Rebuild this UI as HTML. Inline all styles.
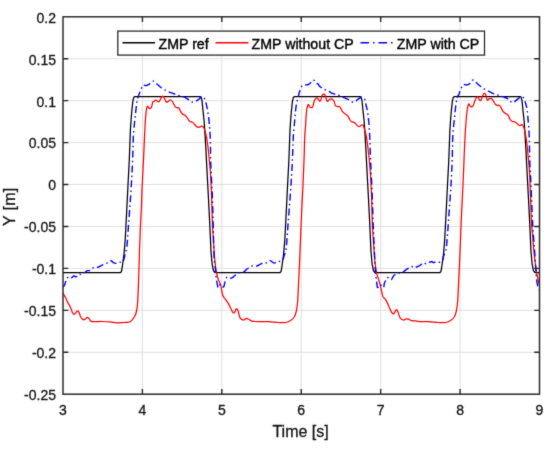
<!DOCTYPE html>
<html><head><meta charset="utf-8"><title>ZMP plot</title>
<style>
html,body{margin:0;padding:0;background:#fff;}
body{width:550px;height:449px;overflow:hidden;}
svg{display:block;}
text{font-family:"Liberation Sans",Arial,Helvetica,sans-serif;stroke-width:0.3px;}
</style></head><body>
<svg width="550" height="449" viewBox="0 0 550 449">
<defs><filter id="soft" x="0" y="0" width="550" height="449" filterUnits="userSpaceOnUse" color-interpolation-filters="sRGB"><feConvolveMatrix order="3" kernelMatrix="0.01134 0.08382 0.01134 0.08382 0.61935 0.08382 0.01134 0.08382 0.01134" edgeMode="duplicate"/></filter></defs>
<g filter="url(#soft)">
<rect x="0" y="0" width="550" height="449" fill="#fff"/>

<path d="M142.42 16.80V394.20M221.83 16.80V394.20M301.25 16.80V394.20M380.67 16.80V394.20M460.08 16.80V394.20M63.00 58.73H539.50M63.00 100.67H539.50M63.00 142.60H539.50M63.00 184.53H539.50M63.00 226.47H539.50M63.00 268.40H539.50M63.00 310.33H539.50M63.00 352.27H539.50" stroke="#dfdfdf" stroke-width="1" fill="none"/>
<polyline points="63.0,272.5 120.5,272.5 121.5,271.3 122.4,266.0 124.0,254.0 125.2,240.0 126.5,215.0 128.0,185.0 129.3,160.0 130.4,130.0 131.2,118.0 131.9,110.0 132.8,101.7 133.6,97.8 134.5,96.5 199.9,96.5 200.9,96.9 201.5,98.4 202.0,100.8 203.0,110.6 204.2,121.8 204.8,131.1 205.8,147.8 206.7,165.0 208.3,195.0 209.8,225.0 210.4,238.4 211.0,251.7 212.1,263.8 213.5,270.8 215.0,272.5 280.1,272.5 281.1,271.3 282.0,266.0 283.6,254.0 284.8,240.0 286.1,215.0 287.6,185.0 288.9,160.0 290.0,130.0 290.8,118.0 291.5,110.0 292.4,101.7 293.2,97.8 294.1,96.5 359.9,96.5 360.9,96.9 361.5,98.4 362.0,100.8 363.0,110.6 364.2,121.8 364.8,131.1 365.8,147.8 366.7,165.0 368.3,195.0 369.8,225.0 370.4,238.4 371.0,251.7 372.1,263.8 373.5,270.8 375.0,272.5 440.0,272.5 441.0,271.3 441.9,266.0 443.5,254.0 444.7,240.0 446.0,215.0 447.5,185.0 448.8,160.0 449.9,130.0 450.7,118.0 451.4,110.0 452.3,101.7 453.1,97.8 454.0,96.5 519.9,96.5 520.9,96.9 521.5,98.4 522.0,100.8 523.0,110.6 524.2,121.8 524.8,131.1 525.8,147.8 526.7,165.0 528.3,195.0 529.8,225.0 530.4,238.4 531.0,251.7 532.1,263.8 533.5,270.8 535.0,272.5 539.5,272.5" fill="none" stroke="#000" stroke-width="1.25" stroke-linejoin="round"/>
<path d="M63.00 293.40C63.80 294.70 64.69 295.95 65.40 297.30C66.33 299.09 66.99 301.00 67.90 302.80C68.69 304.37 69.76 305.80 70.50 307.40C71.33 309.18 71.66 311.18 72.60 312.90C72.96 313.56 73.55 314.49 74.30 314.40C75.14 314.30 75.43 313.13 76.00 312.50C76.53 311.93 76.83 310.91 77.60 310.80C78.21 310.72 78.62 311.55 78.90 312.10C79.64 313.56 79.85 315.25 80.60 316.70C81.13 317.71 81.73 318.80 82.70 319.40C83.30 319.77 84.16 319.57 84.80 319.30C85.79 318.88 86.33 317.50 87.40 317.40C88.15 317.33 88.58 318.35 89.10 318.90C89.85 319.69 90.24 320.88 91.20 321.40C92.05 321.86 93.13 321.59 94.10 321.60C96.73 321.62 99.37 321.45 102.00 321.50C104.67 321.55 107.34 321.67 110.00 321.90C112.34 322.10 114.65 322.70 117.00 322.80C119.33 322.90 121.67 322.61 124.00 322.50C125.33 322.44 126.68 322.50 128.00 322.30C128.86 322.17 129.76 321.97 130.50 321.50C131.34 320.97 131.98 320.17 132.60 319.40C133.32 318.50 133.92 317.50 134.50 316.50C134.96 315.70 135.40 314.88 135.70 314.00C136.14 312.70 136.42 311.35 136.70 310.00C136.95 308.78 137.19 307.54 137.30 306.30C137.62 302.71 137.82 299.10 138.00 295.50C138.26 290.34 138.41 285.17 138.60 280.00C138.78 275.00 138.95 270.00 139.10 265.00C139.25 260.00 139.33 255.00 139.50 250.00C139.79 241.67 140.13 233.33 140.50 225.00C140.80 218.33 141.21 211.67 141.50 205.00C141.71 200.00 141.78 195.00 142.00 190.00C142.44 180.00 143.03 170.00 143.50 160.00C143.89 151.67 144.22 143.33 144.60 135.00C144.75 131.67 144.90 128.33 145.10 125.00C145.30 121.66 145.51 118.33 145.80 115.00C145.98 112.99 146.16 110.98 146.50 109.00C146.66 108.07 146.87 107.13 147.30 106.30C147.38 106.14 147.67 106.38 147.80 106.50C148.41 107.09 148.71 108.10 149.50 108.40C150.06 108.61 150.93 108.34 151.20 107.80C152.16 105.92 152.07 103.64 152.90 101.70C153.03 101.39 153.61 101.68 153.90 101.50C154.54 101.10 154.85 100.07 155.60 100.00C156.29 99.94 156.68 100.88 157.30 101.20C157.80 101.46 158.48 102.07 158.90 101.70C160.04 100.71 160.33 99.03 161.20 97.80C161.64 97.18 162.06 96.07 162.80 96.20C163.71 96.37 164.00 97.62 164.50 98.40C165.30 99.66 165.49 101.43 166.70 102.30C167.25 102.69 167.82 101.54 168.40 101.20C169.12 100.78 169.79 99.80 170.60 100.00C171.65 100.26 172.30 101.40 172.90 102.30C173.81 103.66 174.08 105.42 175.10 106.70C175.61 107.34 176.51 107.60 177.30 107.80C177.72 107.91 178.28 107.30 178.60 107.60C179.42 108.39 179.61 109.63 180.20 110.60C180.91 111.77 181.53 113.03 182.50 114.00C183.08 114.58 184.04 114.61 184.70 115.10C185.53 115.72 186.25 116.49 186.90 117.30C187.56 118.13 187.96 119.15 188.60 120.00C189.07 120.62 189.52 121.32 190.20 121.70C190.88 122.09 191.83 121.79 192.50 122.20C193.40 122.76 193.97 123.73 194.70 124.50C195.44 125.29 195.97 126.34 196.90 126.90C197.56 127.30 198.44 127.34 199.20 127.20C200.01 127.06 200.59 126.20 201.40 126.10C202.00 126.02 202.71 126.24 203.10 126.70C203.89 127.63 204.32 128.84 204.70 130.00C205.42 132.19 205.97 134.44 206.40 136.70C207.10 140.38 207.66 144.08 208.10 147.80C208.76 153.35 209.15 158.94 209.70 164.50C209.88 166.34 210.19 168.16 210.30 170.00C210.79 178.33 211.17 186.66 211.50 195.00C211.90 205.00 212.06 215.00 212.50 225.00C212.79 231.67 213.25 238.34 213.70 245.00C214.09 250.80 214.42 256.61 215.00 262.40C215.32 265.55 215.80 268.69 216.40 271.80C216.90 274.40 217.49 276.98 218.30 279.50C218.90 281.36 220.07 283.02 220.60 284.90C221.61 288.47 221.74 292.27 222.90 295.80C223.30 297.02 224.46 297.85 225.20 298.90C226.29 300.45 227.45 301.96 228.40 303.60C229.56 305.60 230.35 307.80 231.50 309.80C232.15 310.94 232.50 313.19 233.80 313.00C235.31 312.78 235.02 310.07 236.20 309.10C236.63 308.75 237.47 309.30 237.70 309.80C238.81 312.27 238.71 315.21 240.00 317.60C240.63 318.77 241.88 319.83 243.20 320.00C244.35 320.15 245.15 318.57 246.30 318.40C247.10 318.28 247.87 318.84 248.60 319.20C249.68 319.74 250.56 320.69 251.70 321.10C252.74 321.47 253.89 321.43 255.00 321.50C256.50 321.60 258.00 321.59 259.50 321.60C262.63 321.62 265.77 321.45 268.90 321.60C272.08 321.75 275.22 322.33 278.40 322.50C280.90 322.63 283.43 322.88 285.90 322.50C287.57 322.24 289.20 321.54 290.60 320.60C292.09 319.60 293.47 318.33 294.40 316.80C295.42 315.11 295.89 313.13 296.30 311.20C296.96 308.07 297.34 304.89 297.60 301.70C298.11 295.41 298.28 289.10 298.60 282.80C298.92 276.50 299.22 270.20 299.50 263.90C299.78 257.60 300.04 251.30 300.30 245.00C300.71 235.00 301.05 225.00 301.50 215.00C301.95 205.00 302.55 195.00 303.00 185.00C303.45 175.00 303.84 165.00 304.20 155.00C304.44 148.33 304.49 141.66 304.80 135.00C304.96 131.66 305.37 128.34 305.60 125.00C305.83 121.67 305.93 118.33 306.20 115.00C306.36 112.99 306.57 110.99 306.90 109.00C307.10 107.81 307.42 106.64 307.80 105.50C307.92 105.13 308.10 104.25 308.40 104.50C309.23 105.18 309.13 106.67 310.00 107.30C310.62 107.75 311.87 107.94 312.30 107.30C313.61 105.35 313.51 102.73 314.50 100.60C315.00 99.52 315.56 98.12 316.70 97.80C317.47 97.58 317.83 98.93 318.40 99.50C318.97 100.07 319.58 101.81 320.10 101.20C321.54 99.54 321.23 96.92 322.30 95.00C322.60 94.45 323.41 93.99 324.00 94.20C324.80 94.49 325.24 95.43 325.60 96.20C326.35 97.79 325.96 100.06 327.30 101.20C328.01 101.80 328.68 99.93 329.50 99.50C330.17 99.15 330.99 98.63 331.70 98.90C332.71 99.28 333.45 100.26 334.00 101.20C334.79 102.55 334.70 104.33 335.60 105.60C336.09 106.29 337.08 106.49 337.90 106.70C338.33 106.81 338.78 106.39 339.20 106.50C339.61 106.61 339.97 106.94 340.20 107.30C341.09 108.70 341.51 110.37 342.50 111.70C343.21 112.65 344.28 113.25 345.20 114.00C346.12 114.75 347.25 115.28 348.00 116.20C348.78 117.16 349.03 118.46 349.70 119.50C350.17 120.24 350.67 121.02 351.40 121.50C352.39 122.15 353.70 122.17 354.70 122.80C355.57 123.36 356.12 124.32 356.90 125.00C357.62 125.62 358.25 126.70 359.20 126.70C360.13 126.70 360.54 125.34 361.40 125.00C361.90 124.80 362.70 124.75 363.00 125.20C363.93 126.62 364.22 128.37 364.70 130.00C365.35 132.21 365.99 134.43 366.40 136.70C367.13 140.77 367.61 144.89 368.10 149.00C368.71 154.16 369.22 159.33 369.70 164.50C370.02 168.00 370.29 171.50 370.50 175.00C370.89 181.66 371.25 188.33 371.50 195.00C371.88 205.00 371.96 215.01 372.40 225.00C372.69 231.67 373.24 238.34 373.70 245.00C374.10 250.80 374.38 256.62 375.00 262.40C375.38 265.99 375.97 269.56 376.70 273.10C377.08 274.94 377.78 276.70 378.30 278.50C379.08 281.16 379.92 283.81 380.60 286.50C381.45 289.85 381.70 293.36 382.90 296.60C383.28 297.62 384.62 297.99 385.20 298.90C386.47 300.88 387.39 303.07 388.40 305.20C389.49 307.51 390.13 310.05 391.50 312.20C391.99 312.97 392.98 314.12 393.80 313.70C395.16 313.01 394.89 310.58 396.20 309.80C396.83 309.43 397.38 310.74 397.70 311.40C398.67 313.38 398.81 315.74 400.00 317.60C400.72 318.72 401.89 319.73 403.20 320.00C404.27 320.22 405.22 319.06 406.30 318.90C407.06 318.79 407.87 318.96 408.60 319.20C409.69 319.56 410.59 320.41 411.70 320.70C412.77 320.98 413.91 320.77 415.00 320.90C416.51 321.07 417.98 321.52 419.50 321.60C422.63 321.76 425.77 321.45 428.90 321.60C432.08 321.75 435.22 322.33 438.40 322.50C440.90 322.63 443.43 322.88 445.90 322.50C447.57 322.24 449.20 321.54 450.60 320.60C452.09 319.60 453.47 318.33 454.40 316.80C455.42 315.11 455.89 313.13 456.30 311.20C456.96 308.07 457.34 304.89 457.60 301.70C458.11 295.41 458.28 289.10 458.60 282.80C458.92 276.50 459.22 270.20 459.50 263.90C459.78 257.60 460.04 251.30 460.30 245.00C460.71 235.00 461.05 225.00 461.50 215.00C461.95 205.00 462.55 195.00 463.00 185.00C463.45 175.00 463.78 165.00 464.20 155.00C464.48 148.33 464.74 141.66 465.10 135.00C465.28 131.66 465.56 128.33 465.80 125.00C465.99 122.33 466.15 119.66 466.40 117.00C466.62 114.66 466.85 112.32 467.20 110.00C467.45 108.32 467.74 106.64 468.20 105.00C468.31 104.61 468.57 103.76 468.90 104.00C469.77 104.61 469.67 106.18 470.60 106.70C471.26 107.07 472.36 106.81 472.80 106.20C473.97 104.57 474.14 102.41 475.00 100.60C475.65 99.24 475.92 97.30 477.30 96.70C478.13 96.34 478.31 98.21 478.90 98.90C479.42 99.51 479.93 101.04 480.60 100.60C481.79 99.83 481.69 97.98 482.30 96.70C482.83 95.58 482.97 94.09 484.00 93.40C484.54 93.04 485.31 93.92 485.60 94.50C486.46 96.25 486.11 98.56 487.30 100.10C487.72 100.65 488.36 99.18 489.00 98.90C489.69 98.60 490.53 98.05 491.20 98.40C492.25 98.95 492.71 100.24 493.40 101.20C494.17 102.27 494.65 103.58 495.60 104.50C496.21 105.09 497.06 105.47 497.90 105.60C498.26 105.66 498.45 104.91 498.80 105.00C499.39 105.16 499.86 105.69 500.20 106.20C501.11 107.58 501.58 109.23 502.50 110.60C503.09 111.48 503.88 112.23 504.70 112.90C505.72 113.74 507.15 114.08 508.00 115.10C509.05 116.36 509.31 118.12 510.20 119.50C510.66 120.21 511.24 120.91 512.00 121.30C513.07 121.85 514.44 121.63 515.50 122.20C516.50 122.73 517.08 123.85 518.00 124.50C518.69 124.99 519.45 125.60 520.30 125.60C520.95 125.60 521.29 124.30 521.90 124.50C522.78 124.79 523.27 125.83 523.60 126.70C524.42 128.85 524.87 131.14 525.30 133.40C526.00 137.08 526.55 140.78 527.00 144.50C527.58 149.32 527.94 154.17 528.40 159.00C528.74 162.67 529.19 166.32 529.40 170.00C529.89 178.33 530.17 186.67 530.50 195.00C530.90 205.00 531.11 215.01 531.60 225.00C531.71 227.34 532.10 229.66 532.30 232.00C532.70 236.53 532.98 241.07 533.40 245.60C533.88 250.84 534.37 256.08 535.00 261.30C535.44 264.95 536.00 268.58 536.60 272.20C537.03 274.81 537.51 277.42 538.10 280.00C538.48 281.69 539.03 283.33 539.50 285.00" fill="none" stroke="#ff0000" stroke-width="1.25" stroke-linejoin="round"/>
<path d="M63.00 287.40C63.33 286.93 63.71 286.49 64.00 286.00C64.38 285.36 64.74 284.70 65.00 284.00C65.31 283.16 65.40 282.25 65.70 281.40C66.07 280.37 66.46 279.34 67.00 278.40C67.23 277.99 67.53 277.39 68.00 277.40C68.97 277.43 69.73 278.50 70.70 278.50C71.27 278.50 71.55 277.74 72.00 277.40C72.65 276.91 73.20 276.12 74.00 276.00C74.71 275.89 75.28 276.80 76.00 276.80C76.54 276.80 76.99 276.34 77.40 276.00C78.13 275.40 78.54 274.39 79.40 274.00C79.82 273.81 80.24 274.58 80.70 274.50C81.67 274.33 82.53 273.76 83.40 273.30C84.10 272.93 84.73 272.43 85.40 272.00C86.07 271.57 86.64 270.95 87.40 270.70C88.23 270.43 89.23 270.89 90.00 270.50C91.22 269.88 91.83 268.31 93.10 267.80C94.69 267.16 96.54 267.62 98.20 267.20C99.11 266.97 99.86 266.33 100.70 265.90C101.96 265.26 103.19 264.55 104.50 264.00C105.73 263.48 107.10 263.30 108.30 262.70C109.26 262.22 109.83 260.80 110.90 260.80C111.95 260.80 112.47 262.22 113.40 262.70C114.20 263.11 115.11 263.48 116.00 263.40C117.33 263.28 118.47 262.25 119.80 262.10C120.65 262.01 121.53 263.08 122.30 262.70C123.14 262.28 123.30 261.09 123.60 260.20C124.17 258.54 124.47 256.80 124.90 255.10C125.33 253.40 125.81 251.71 126.20 250.00C126.51 248.68 126.88 247.35 127.00 246.00C127.64 239.01 127.99 232.00 128.50 225.00C128.99 218.33 129.53 211.67 130.00 205.00C130.47 198.34 130.91 191.67 131.30 185.00C131.78 176.67 132.25 168.34 132.60 160.00C132.95 151.67 133.00 143.33 133.40 135.00C133.56 131.66 133.98 128.33 134.30 125.00C134.51 122.80 134.76 120.60 135.00 118.40C135.36 115.07 135.70 111.73 136.10 108.40C136.44 105.60 136.70 102.78 137.20 100.00C137.43 98.70 137.85 97.44 138.30 96.20C138.99 94.30 139.85 92.47 140.60 90.60C141.01 89.57 141.30 88.49 141.80 87.50C142.24 86.62 142.50 85.40 143.40 85.00C144.24 84.63 145.19 85.76 146.10 85.60C147.35 85.38 148.42 84.56 149.50 83.90C150.86 83.06 151.80 81.22 153.40 81.10C154.60 81.01 155.28 82.62 156.20 83.40C157.68 84.65 159.04 86.05 160.60 87.20C162.02 88.25 163.57 89.12 165.10 90.00C166.17 90.62 167.27 91.21 168.40 91.70C169.87 92.34 171.40 92.84 172.90 93.40C174.36 93.94 175.82 94.51 177.30 95.00C178.62 95.44 179.98 95.76 181.30 96.20C182.81 96.70 184.38 97.09 185.80 97.80C187.00 98.40 187.96 99.39 189.10 100.10C190.37 100.89 191.53 102.06 193.00 102.30C193.99 102.46 194.91 101.67 195.80 101.20C196.99 100.57 198.15 99.85 199.20 99.00C200.03 98.34 200.41 97.08 201.40 96.70C202.11 96.43 203.06 96.76 203.60 97.30C204.47 98.17 204.90 99.43 205.30 100.60C206.04 102.78 206.55 105.04 207.00 107.30C207.65 110.61 208.15 113.95 208.60 117.30C208.95 119.86 209.20 122.43 209.40 125.00C209.76 129.63 210.14 134.26 210.30 138.90C210.60 147.60 210.49 156.30 210.80 165.00C211.16 175.01 211.90 185.00 212.30 195.00C212.70 205.00 212.92 215.00 213.20 225.00C213.39 231.67 213.49 238.33 213.70 245.00C213.86 250.00 213.95 255.01 214.30 260.00C214.48 262.61 215.03 265.19 215.30 267.80C215.60 270.69 215.69 273.61 216.00 276.50C216.16 278.01 216.44 279.51 216.70 281.00C217.04 282.91 217.30 284.83 217.80 286.70C217.91 287.12 218.19 288.11 218.50 287.80C219.35 286.95 219.25 285.45 220.00 284.50C220.23 284.21 220.81 284.27 221.10 284.50C221.74 285.01 221.92 285.92 222.50 286.50C222.78 286.78 223.38 287.34 223.60 287.00C224.33 285.87 224.34 284.40 224.70 283.10C224.97 282.13 225.19 281.15 225.50 280.20C225.79 279.32 226.00 278.38 226.50 277.60C226.73 277.23 227.17 276.91 227.60 276.90C228.26 276.88 228.87 277.29 229.50 277.50C230.20 277.73 230.90 278.44 231.60 278.20C232.79 277.80 233.49 276.55 234.50 275.80C235.20 275.28 235.97 274.88 236.70 274.40C237.44 273.91 238.11 273.31 238.90 272.90C239.36 272.66 239.89 272.60 240.40 272.50C241.46 272.30 242.65 272.51 243.60 272.00C245.04 271.23 245.97 269.74 247.30 268.80C248.12 268.23 249.14 268.01 250.00 267.50C250.65 267.11 251.06 266.26 251.80 266.10C253.30 265.77 254.91 266.48 256.40 266.10C258.03 265.69 259.36 264.48 260.90 263.80C261.77 263.41 262.66 263.05 263.60 262.90C264.52 262.75 265.52 263.22 266.40 262.90C267.74 262.42 268.58 260.60 270.00 260.60C271.42 260.60 272.23 262.49 273.60 262.90C274.50 263.17 275.49 262.76 276.40 262.50C277.64 262.15 278.79 261.54 280.00 261.10C280.89 260.77 282.13 260.96 282.70 260.20C283.66 258.91 283.58 257.12 284.10 255.60C284.52 254.38 285.22 253.26 285.50 252.00C286.02 249.70 286.28 247.35 286.50 245.00C287.12 238.34 287.50 231.67 288.00 225.00C288.50 218.33 289.00 211.67 289.50 205.00C290.00 198.33 290.57 191.67 291.00 185.00C291.54 176.67 292.00 168.34 292.40 160.00C292.80 151.67 292.95 143.33 293.40 135.00C293.58 131.66 294.00 128.33 294.30 125.00C294.54 122.33 294.75 119.66 295.00 117.00C295.31 113.66 295.55 110.32 296.00 107.00C296.29 104.85 296.73 102.72 297.20 100.60C297.53 99.08 298.01 97.60 298.40 96.10C298.78 94.64 299.01 93.13 299.50 91.70C299.94 90.42 300.65 89.24 301.20 88.00C301.55 87.21 301.52 86.14 302.20 85.60C302.95 85.01 304.06 85.17 305.00 85.00C306.13 84.80 307.36 84.98 308.40 84.50C309.47 84.01 310.22 82.99 311.10 82.20C311.89 81.49 312.35 79.86 313.40 80.00C314.58 80.16 314.71 82.01 315.60 82.80C316.21 83.34 317.18 83.36 317.80 83.90C318.71 84.69 319.20 85.89 320.10 86.70C320.89 87.41 321.89 87.85 322.80 88.40C323.72 88.95 324.63 89.53 325.60 90.00C326.50 90.44 327.50 90.65 328.40 91.10C329.38 91.59 330.22 92.31 331.20 92.80C332.10 93.25 333.06 93.56 334.00 93.90C335.09 94.29 336.18 94.68 337.30 95.00C338.19 95.25 339.12 95.31 340.00 95.60C340.87 95.88 341.68 96.31 342.50 96.70C343.98 97.41 345.44 98.16 346.90 98.90C348.00 99.46 349.10 100.04 350.20 100.60C351.33 101.17 352.33 102.30 353.60 102.30C354.69 102.30 355.50 101.22 356.40 100.60C357.37 99.92 358.21 99.05 359.20 98.40C359.88 97.95 360.58 97.30 361.40 97.30C362.40 97.30 363.65 97.56 364.20 98.40C365.27 100.02 365.33 102.12 365.80 104.00C366.43 106.55 367.05 109.11 367.50 111.70C367.98 114.45 368.29 117.23 368.60 120.00C368.79 121.66 368.89 123.33 369.00 125.00C369.26 128.90 369.52 132.80 369.70 136.70C370.12 146.13 370.40 155.57 370.80 165.00C371.23 175.00 371.80 185.00 372.20 195.00C372.60 205.00 372.81 215.00 373.20 225.00C373.55 233.90 373.99 242.80 374.40 251.70C374.56 255.13 374.72 258.57 374.90 262.00C375.02 264.43 375.12 266.87 375.30 269.30C375.48 271.70 375.73 274.10 376.00 276.50C376.33 279.44 376.62 282.38 377.10 285.30C377.22 286.06 377.06 287.70 377.80 287.50C379.00 287.17 378.85 284.97 380.00 284.50C380.66 284.23 380.98 285.52 381.50 286.00C382.08 286.53 382.75 288.05 383.30 287.50C384.37 286.43 383.92 284.53 384.40 283.10C384.66 282.32 385.12 281.63 385.50 280.90C386.08 279.79 386.20 278.20 387.30 277.60C388.02 277.20 388.78 278.30 389.50 278.70C390.12 279.04 390.74 280.22 391.30 279.80C392.63 278.81 392.59 276.63 393.80 275.50C394.77 274.59 396.29 274.54 397.50 274.00C398.22 273.68 398.84 273.13 399.60 272.90C400.53 272.62 401.63 272.94 402.50 272.50C403.90 271.80 404.91 270.50 406.20 269.60C407.12 268.96 408.12 268.44 409.10 267.90C409.99 267.41 410.79 266.50 411.80 266.50C412.81 266.50 413.49 267.79 414.50 267.90C415.20 267.98 415.76 267.29 416.40 267.00C417.43 266.53 418.51 266.16 419.50 265.60C420.92 264.79 422.02 263.31 423.60 262.90C424.55 262.65 425.42 263.87 426.40 263.80C427.40 263.73 428.18 262.89 429.10 262.50C429.98 262.12 430.84 261.50 431.80 261.50C432.37 261.50 432.63 262.44 433.20 262.50C434.27 262.62 435.32 262.05 436.40 262.00C437.60 261.95 438.81 262.38 440.00 262.20C440.84 262.07 441.82 261.80 442.30 261.10C443.00 260.08 442.87 258.69 443.20 257.50C443.47 256.56 443.72 255.60 444.10 254.70C444.49 253.76 445.25 252.98 445.50 252.00C446.09 249.71 446.36 247.35 446.60 245.00C447.27 238.35 447.70 231.67 448.20 225.00C448.70 218.34 449.13 211.67 449.60 205.00C450.07 198.33 450.61 191.67 451.00 185.00C451.48 176.67 451.90 168.34 452.20 160.00C452.50 151.67 452.44 143.33 452.80 135.00C452.94 131.66 453.36 128.33 453.70 125.00C453.93 122.80 454.27 120.60 454.50 118.40C454.87 114.94 455.10 111.46 455.50 108.00C455.77 105.66 456.05 103.31 456.50 101.00C456.82 99.34 457.21 97.69 457.80 96.10C458.02 95.49 458.65 95.10 458.90 94.50C459.42 93.25 459.64 91.88 460.10 90.60C460.37 89.84 460.72 89.11 461.10 88.40C461.82 87.07 462.15 85.35 463.40 84.50C464.16 83.99 465.19 85.09 466.10 85.00C467.29 84.88 468.52 84.58 469.50 83.90C470.47 83.22 470.86 81.94 471.70 81.10C472.18 80.62 472.75 79.82 473.40 80.00C474.40 80.28 474.83 81.51 475.60 82.20C476.50 83.01 477.47 83.73 478.40 84.50C479.50 85.40 480.56 86.35 481.70 87.20C482.80 88.02 483.92 88.81 485.10 89.50C486.16 90.11 487.31 90.55 488.40 91.10C489.51 91.65 490.58 92.28 491.70 92.80C492.61 93.22 493.56 93.56 494.50 93.90C495.42 94.23 496.37 94.49 497.30 94.80C498.64 95.25 499.96 95.75 501.30 96.20C502.43 96.58 503.60 96.85 504.70 97.30C505.83 97.76 507.01 98.18 508.00 98.90C509.07 99.67 509.76 100.89 510.80 101.70C511.45 102.20 512.20 102.98 513.00 102.80C514.16 102.54 514.87 101.33 515.80 100.60C516.73 99.87 517.66 99.13 518.60 98.40C519.33 97.83 519.90 96.92 520.80 96.70C521.57 96.51 522.54 96.74 523.10 97.30C523.96 98.16 524.27 99.45 524.70 100.60C525.38 102.43 525.97 104.30 526.40 106.20C526.90 108.41 527.22 110.65 527.50 112.90C527.79 115.26 527.88 117.63 528.10 120.00C528.25 121.67 528.49 123.33 528.60 125.00C528.86 128.90 529.07 132.80 529.20 136.70C529.51 146.13 529.59 155.57 529.90 165.00C529.96 166.67 530.22 168.33 530.30 170.00C530.79 180.00 531.15 190.00 531.60 200.00C532.05 210.00 532.43 220.01 533.00 230.00C533.30 235.21 533.82 240.40 534.20 245.60C534.58 250.83 534.95 256.07 535.30 261.30C535.65 266.50 535.78 271.72 536.30 276.90C536.62 280.06 537.05 283.22 537.80 286.30C538.12 287.62 538.93 288.77 539.50 290.00" fill="none" stroke="#0000ff" stroke-width="1.4" stroke-dasharray="7 3.2 1.5 3.2"/>
<path d="M142.42 394.20v-5.3M142.42 16.80v5.3M221.83 394.20v-5.3M221.83 16.80v5.3M301.25 394.20v-5.3M301.25 16.80v5.3M380.67 394.20v-5.3M380.67 16.80v5.3M460.08 394.20v-5.3M460.08 16.80v5.3M63.00 58.73h5.3M539.50 58.73h-5.3M63.00 100.67h5.3M539.50 100.67h-5.3M63.00 142.60h5.3M539.50 142.60h-5.3M63.00 184.53h5.3M539.50 184.53h-5.3M63.00 226.47h5.3M539.50 226.47h-5.3M63.00 268.40h5.3M539.50 268.40h-5.3M63.00 310.33h5.3M539.50 310.33h-5.3M63.00 352.27h5.3M539.50 352.27h-5.3" stroke="#262626" stroke-width="1.4" fill="none"/>
<rect x="63.0" y="16.8" width="476.50" height="377.40" fill="none" stroke="#2e2e2e" stroke-width="1.5"/>
<text x="56" y="22.6" font-size="14" fill="#141414" stroke="#141414" text-anchor="end">0.2</text>
<text x="56" y="64.5" font-size="14" fill="#141414" stroke="#141414" text-anchor="end">0.15</text>
<text x="56" y="106.5" font-size="14" fill="#141414" stroke="#141414" text-anchor="end">0.1</text>
<text x="56" y="148.4" font-size="14" fill="#141414" stroke="#141414" text-anchor="end">0.05</text>
<text x="56" y="190.3" font-size="14" fill="#141414" stroke="#141414" text-anchor="end">0</text>
<text x="56" y="232.3" font-size="14" fill="#141414" stroke="#141414" text-anchor="end">-0.05</text>
<text x="56" y="274.2" font-size="14" fill="#141414" stroke="#141414" text-anchor="end">-0.1</text>
<text x="56" y="316.1" font-size="14" fill="#141414" stroke="#141414" text-anchor="end">-0.15</text>
<text x="56" y="358.1" font-size="14" fill="#141414" stroke="#141414" text-anchor="end">-0.2</text>
<text x="56" y="400.0" font-size="14" fill="#141414" stroke="#141414" text-anchor="end">-0.25</text>
<text x="63.0" y="415" font-size="14" fill="#141414" stroke="#141414" text-anchor="middle">3</text>
<text x="142.4" y="415" font-size="14" fill="#141414" stroke="#141414" text-anchor="middle">4</text>
<text x="221.8" y="415" font-size="14" fill="#141414" stroke="#141414" text-anchor="middle">5</text>
<text x="301.2" y="415" font-size="14" fill="#141414" stroke="#141414" text-anchor="middle">6</text>
<text x="380.7" y="415" font-size="14" fill="#141414" stroke="#141414" text-anchor="middle">7</text>
<text x="460.1" y="415" font-size="14" fill="#141414" stroke="#141414" text-anchor="middle">8</text>
<text x="539.5" y="415" font-size="14" fill="#141414" stroke="#141414" text-anchor="middle">9</text>
<text x="300.6" y="437.2" font-size="16" fill="#141414" stroke="#141414" text-anchor="middle">Time [s]</text>
<text transform="translate(14.9 206.7) rotate(-90)" x="0" y="0" font-size="16" letter-spacing="0.3" fill="#141414" stroke="#141414" text-anchor="middle">Y [m]</text>
<rect x="117.8" y="31.1" width="366.7" height="24" fill="#fff" stroke="#262626" stroke-width="1.25"/>
<line x1="122.5" y1="42.7" x2="155" y2="42.7" stroke="#000" stroke-width="1.4"/>
<line x1="215.5" y1="42.7" x2="248.5" y2="42.7" stroke="#ff0000" stroke-width="1.4"/>
<line x1="360.5" y1="42.7" x2="393" y2="42.7" stroke="#0000ff" stroke-width="1.5" stroke-dasharray="8.5 4 1.5 4"/>
<text x="158.5" y="48.9" font-size="14.2" fill="#000" stroke="#000" style="stroke-width:0.38px">ZMP ref</text>
<text x="251.5" y="48.9" font-size="14.2" fill="#000" stroke="#000" style="stroke-width:0.38px">ZMP without CP</text>
<text x="396.8" y="48.9" font-size="14.2" fill="#000" stroke="#000" style="stroke-width:0.38px">ZMP with CP</text>
</g>
</svg>
</body></html>
